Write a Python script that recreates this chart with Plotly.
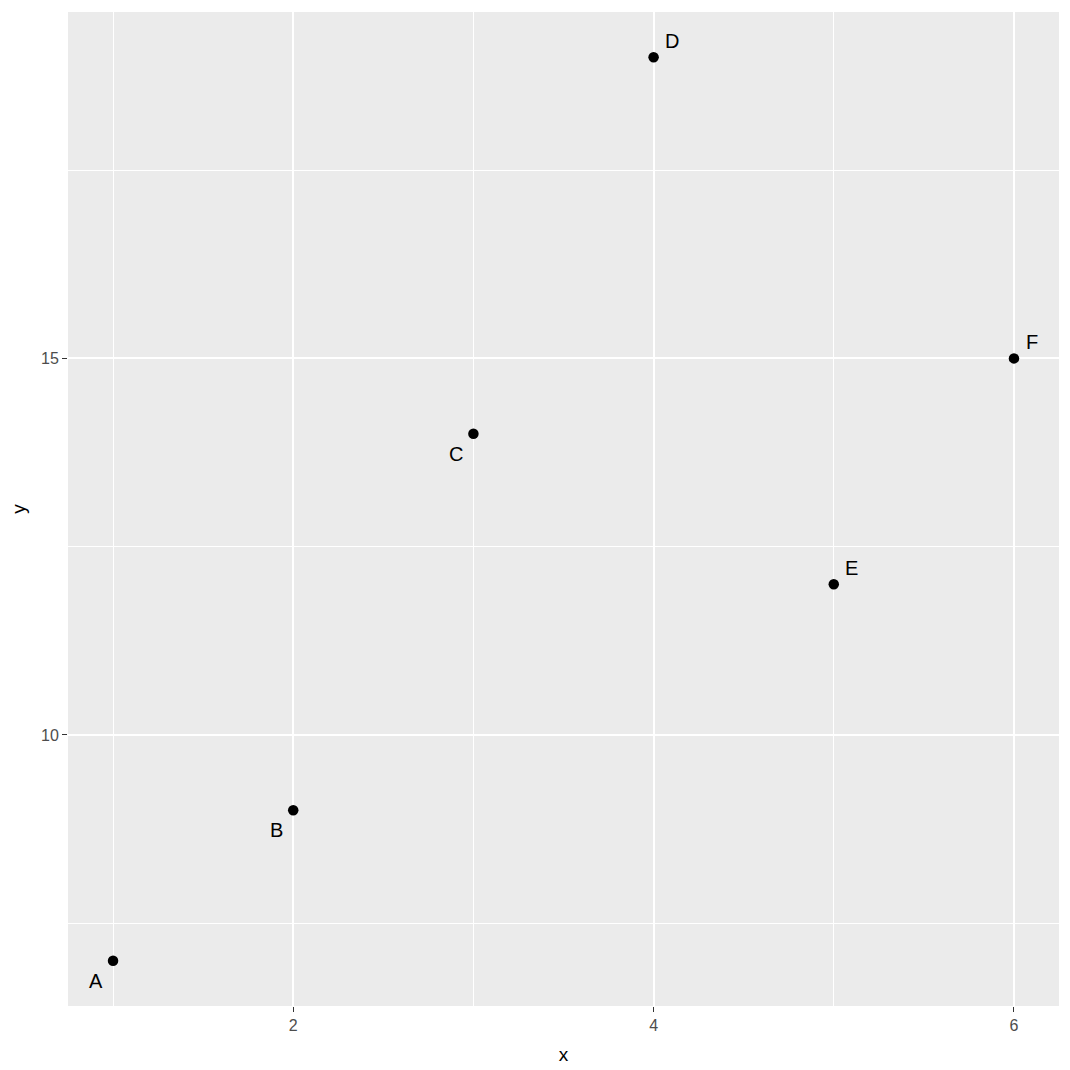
import plotly.graph_objects as go

labels = ["A", "B", "C", "D", "E", "F"]
x_vals = [1, 2, 3, 4, 5, 6]
y_vals = [7, 9, 14, 19, 12, 15]
label_side = ["bl", "bl", "bl", "tr", "tr", "tr"]

FONT = "Liberation Sans, Arial, sans-serif"

fig = go.Figure()
fig.add_trace(go.Scatter(
    x=x_vals, y=y_vals, mode="markers",
    marker=dict(color="black", size=10.5),
    showlegend=False, hoverinfo="skip",
))

for lab, xv, yv, side in zip(labels, x_vals, y_vals, label_side):
    if side == "bl":
        xs, ys = -17, -20
    else:
        xs, ys = 18, 16
    fig.add_annotation(
        x=xv, y=yv, text=lab, showarrow=False,
        xshift=xs, yshift=ys,
        font=dict(family=FONT, size=20, color="black"),
    )

axis_common = dict(
    showline=False, zeroline=False,
    gridcolor="white", gridwidth=1.6,
    ticks="outside", ticklen=5, tickcolor="#333333", tickwidth=1.1,
    tickfont=dict(family=FONT, size=16, color="#4D4D4D"),
)

fig.update_xaxes(
    range=[0.75, 6.25], tickmode="array", tickvals=[2, 4, 6], ticktext=["2", "4", "6"],
    minor=dict(tickmode="array", tickvals=[1, 3, 5], showgrid=True, gridcolor="white", gridwidth=0.8, ticks=""),
    title=dict(text="x", standoff=14, font=dict(family=FONT, size=19, color="black")),
    **axis_common,
)
fig.update_yaxes(
    range=[6.4, 19.6], tickmode="array", tickvals=[10, 15], ticktext=["10", "15"],
    minor=dict(tickmode="array", tickvals=[7.5, 12.5, 17.5], showgrid=True, gridcolor="white", gridwidth=0.8, ticks=""),
    title=dict(text="y", standoff=17, font=dict(family=FONT, size=19, color="black")),
    **axis_common,
)

fig.update_layout(
    width=1062, height=1062,
    margin=dict(l=60, r=11, t=4, b=64),
    plot_bgcolor="#EBEBEB", paper_bgcolor="white",
)

fig.write_html("out.html")
